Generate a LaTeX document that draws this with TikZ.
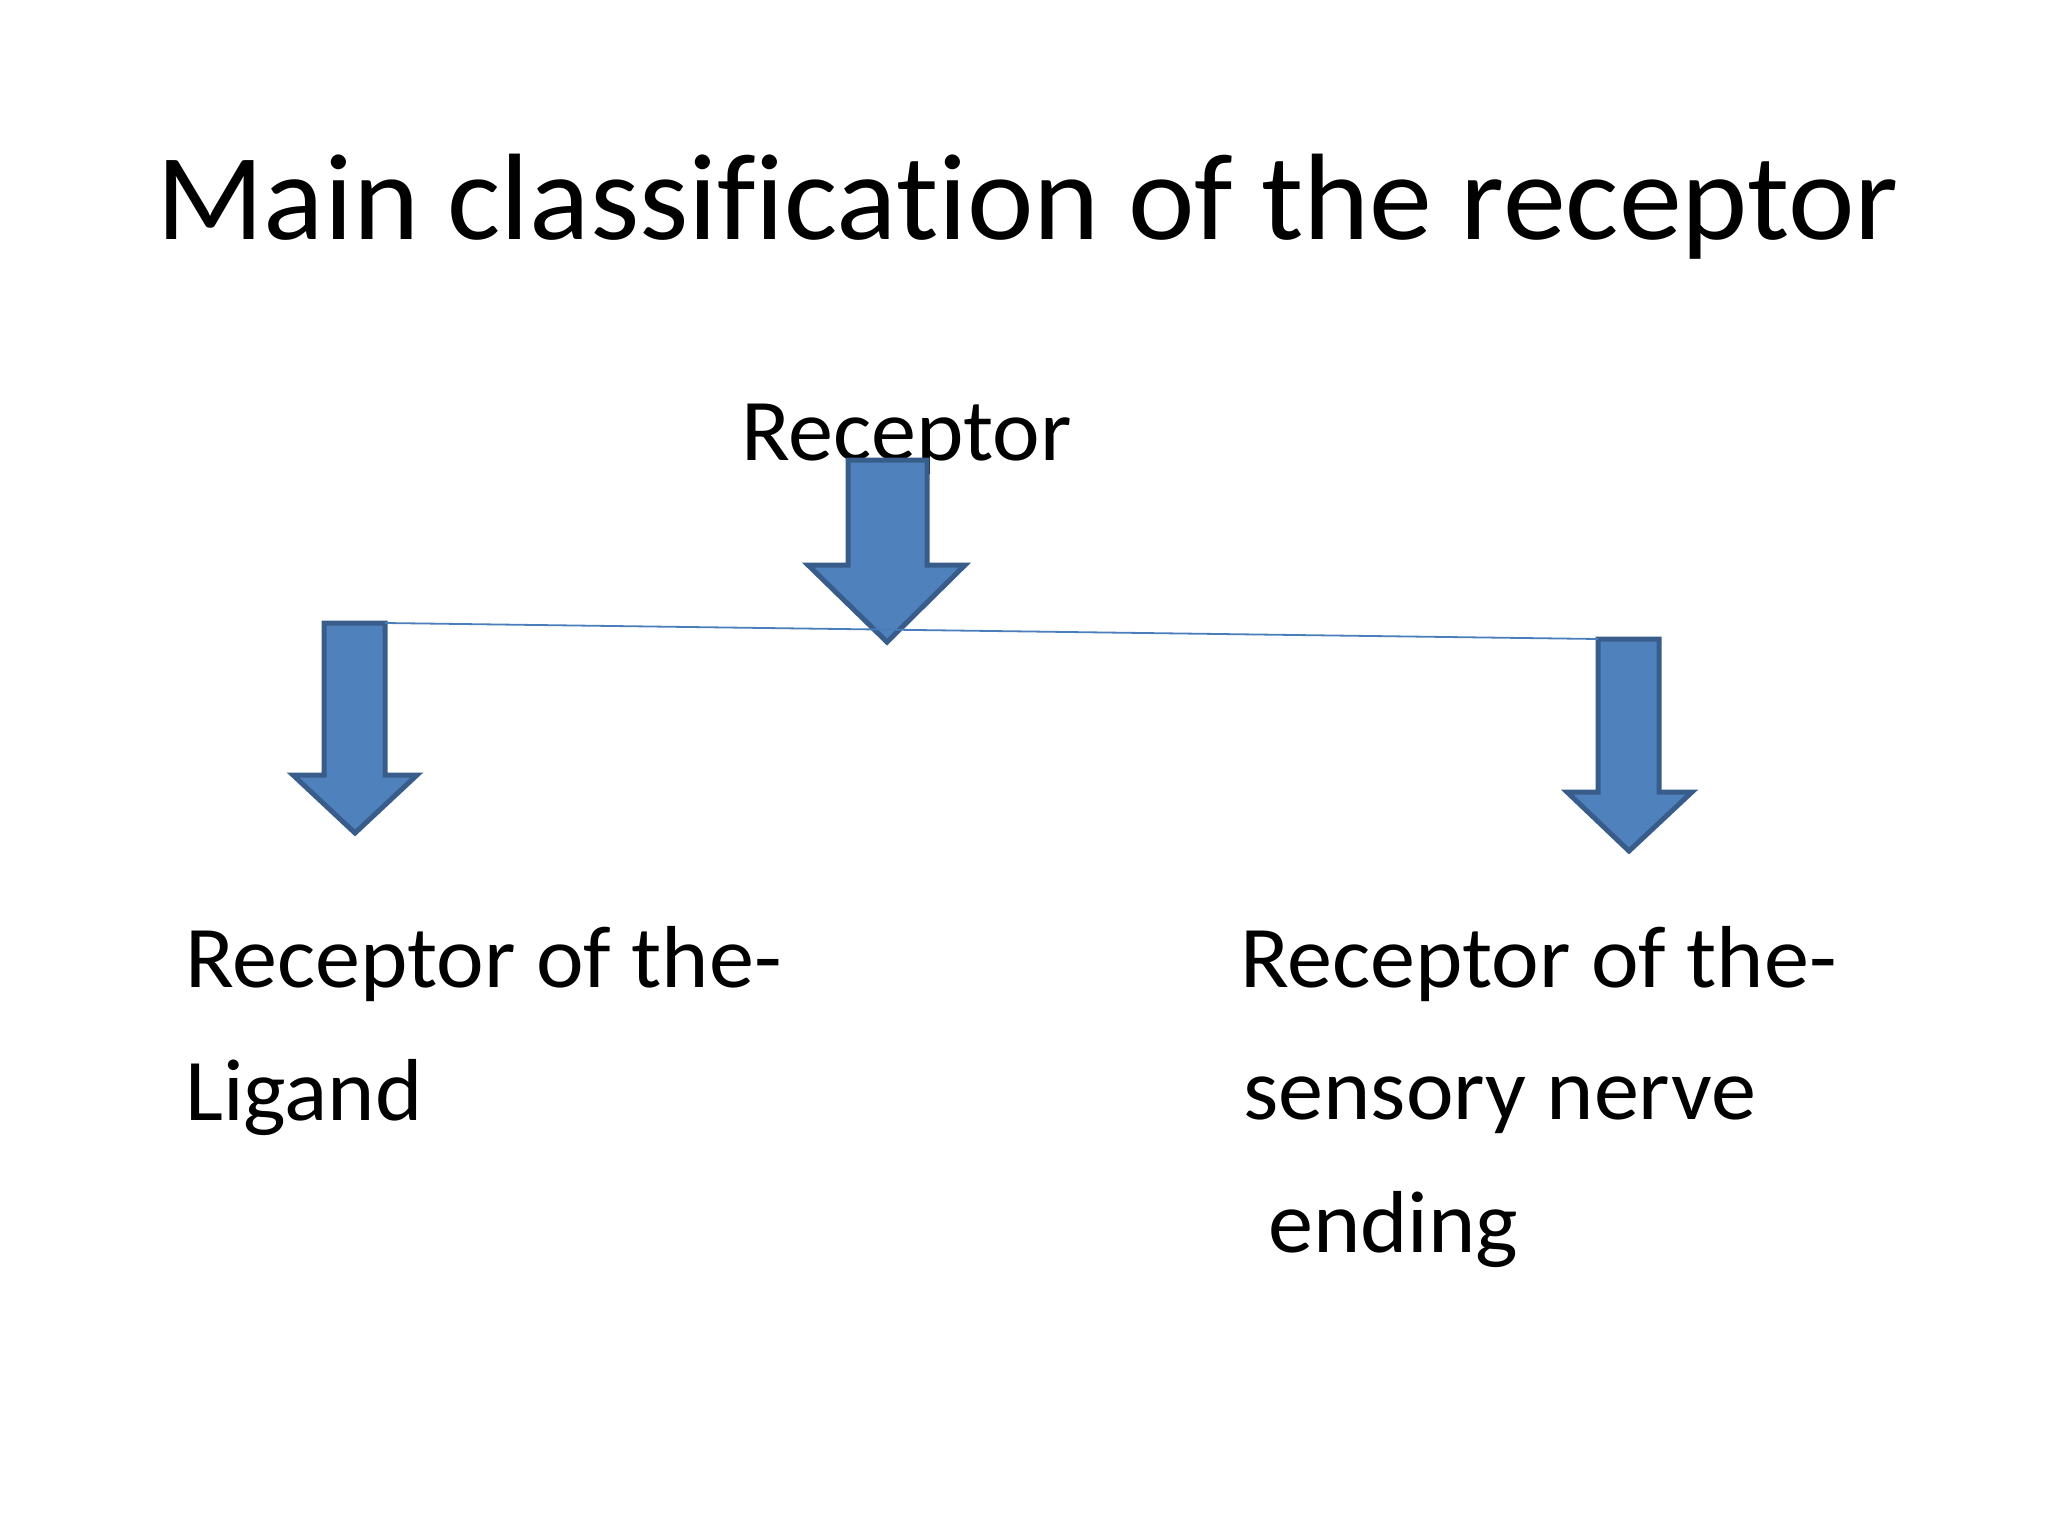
\documentclass[tikz,border=0pt]{standalone}
\usepackage{fontspec}
\setmainfont{Carlito}[RawFeature={-liga;-clig}]
\definecolor{arrowfill}{HTML}{4F81BD}
\definecolor{arrowdraw}{HTML}{385D8A}
\definecolor{linecol}{HTML}{4A7EBB}
\newcommand{\titlebox}[1]{\scalebox{1.024}[1]{#1}}
\newcommand{\bodybox}[1]{\scalebox{1.025}[1]{#1}}
\begin{document}
\begin{tikzpicture}[x=1pt,y=-1pt,
  bigarrow/.style={fill=arrowfill,draw=arrowdraw,line width=5pt,line join=miter},
  titletext/.style={anchor=base west,inner sep=0pt,font=\fontsize{123}{150}\selectfont},
  bodytext/.style={anchor=base west,inner sep=0pt,font=\fontsize{88}{133}\selectfont},
  connector/.style={draw=linecol,line width=1.8pt}]
\useasboundingbox (0,0) rectangle (2048,1536);
\fill[white] (0,0) rectangle (2048,1536);
% title
\node[titletext] (title) at (156,239) {\titlebox{Main classification of the receptor}};
% top label
\node[bodytext] (rec) at (741,460) {\bodybox{Receptor}};
% top arrow
\draw[bigarrow] (848,460) -- (927,460) -- (927,565) -- (965,565) -- (887,642) -- (808,565) -- (848,565) -- cycle;
% left arrow
\draw[bigarrow] (324,623) -- (385,623) -- (385,775) -- (417,775) -- (355,833) -- (293,775) -- (324,775) -- cycle;
% right arrow
\draw[bigarrow] (1598,639) -- (1659,639) -- (1659,792) -- (1692,792) -- (1629,851) -- (1567,792) -- (1598,792) -- cycle;
\coordinate (lstart) at (385,623);
\coordinate (lend) at (1598,639);
\draw[connector] (lstart) -- (lend);
% bottom texts
\node[bodytext] (lig1) at (185,987) {\bodybox{Receptor of the-}};
\node[bodytext] (lig2) at (185,1120) {\bodybox{Ligand}};
\node[bodytext] (sen1) at (1240,987) {\bodybox{Receptor of the-}};
\node[bodytext] (sen2) at (1243,1119) {\bodybox{sensory nerve}};
\node[bodytext] (sen3) at (1268,1252) {\bodybox{ending}};
\end{tikzpicture}
\end{document}
